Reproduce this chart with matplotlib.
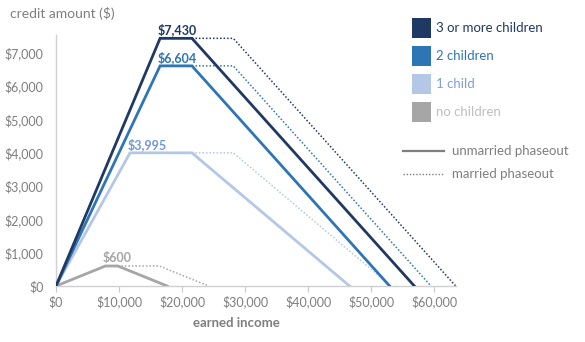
import matplotlib.pyplot as plt
from matplotlib.patches import Rectangle
from matplotlib.lines import Line2D
from matplotlib.ticker import FuncFormatter

# EITC schedule by number of children
groups = ['3 or more children', '2 children', '1 child', 'no children']
max_credit = [7430, 6604, 3995, 600]
phase_in_end = [16510, 16510, 11750, 7840]
single_phaseout_start = [21560, 21560, 21560, 9800]
single_phaseout_end = [56838, 52918, 46560, 17640]
married_phaseout_start = [28120, 28120, 28120, 16370]
married_phaseout_end = [63398, 59478, 53120, 24210]

x_ticks = [0, 10000, 20000, 30000, 40000, 50000, 60000]
y_ticks = [0, 1000, 2000, 3000, 4000, 5000, 6000, 7000]

line_colors = ['#203864', '#2e75b6', '#b4c7e7', '#a6a6a6']
label_colors = ['#203864', '#2e75b6', '#6f97d9', '#a6a6a6']
legend_text_colors = ['#203864', '#2e75b6', '#7f9fd8', '#bfbfbf']
grey = '#7f7f7f'

plt.rcParams['font.family'] = ['Lato', 'DejaVu Sans']

W, H = 585, 342
fig = plt.figure(figsize=(W / 100, H / 100), dpi=100)
ax = fig.add_axes([56 / W, 1 - 286 / H, (455.7 - 56) / W, (286 - 35) / H])

# draw lightest first so darker lines sit on top
for i in reversed(range(len(groups))):
    c = line_colors[i]
    ax.plot([single_phaseout_start[i], married_phaseout_start[i], married_phaseout_end[i]],
            [max_credit[i], max_credit[i], 0],
            color=c, lw=1.1, linestyle=(0, (1, 1.3)), zorder=2)
    ax.plot([0, phase_in_end[i], single_phaseout_start[i], single_phaseout_end[i]],
            [0, max_credit[i], max_credit[i], 0],
            color=c, lw=2.0, solid_joinstyle='miter', zorder=3)
    ax.annotate(f'${max_credit[i]:,}', (phase_in_end[i], max_credit[i]),
                xytext=(-2, 1.5), textcoords='offset points',
                ha='left', va='bottom', fontsize=9, fontweight='bold',
                color=label_colors[i])

ax.set_xlim(0, 63400)
ax.set_ylim(0, 7530)
ax.set_xticks(x_ticks)
ax.set_yticks(y_ticks)
ax.xaxis.set_major_formatter(FuncFormatter(lambda v, p: f'${v:,.0f}'))
ax.yaxis.set_major_formatter(FuncFormatter(lambda v, p: f'${v:,.0f}'))
ax.tick_params(axis='x', colors='#c8c8c8', labelcolor=grey, labelsize=9,
               length=4, width=0.8, pad=3)
ax.tick_params(axis='y', length=0, labelcolor=grey, labelsize=9, pad=9)
for s in ['top', 'right']:
    ax.spines[s].set_visible(False)
for s in ['left', 'bottom']:
    ax.spines[s].set_color('#d0d0d0')
    ax.spines[s].set_linewidth(1.0)

fig.text(236.7 / W, 1 - 322.7 / H, 'earned income', fontsize=9.5, fontweight='bold',
         color=grey, ha='center', va='center')
fig.text(10 / W, 1 - 14 / H, 'credit amount ($)', fontsize=10, color=grey,
         ha='left', va='center')

# legend: colour squares
for i, g in enumerate(groups):
    top = 17.5 + 28.1 * i
    fig.add_artist(Rectangle((412 / W, 1 - (top + 20) / H), 19 / W, 20 / H,
                             transform=fig.transFigure, facecolor=line_colors[i],
                             edgecolor='none'))
    fig.text(436 / W, 1 - (top + 10.5) / H, g, fontsize=9.5,
             color=legend_text_colors[i], ha='left', va='center')

# legend: line styles
fig.add_artist(Line2D([403 / W, 444 / W], [1 - 150.7 / H] * 2, transform=fig.transFigure,
                      color=grey, lw=1.6))
fig.text(452 / W, 1 - 150.7 / H, 'unmarried phaseout', fontsize=9.5, color=grey,
         ha='left', va='center')
fig.add_artist(Line2D([403 / W, 444 / W], [1 - 174 / H] * 2, transform=fig.transFigure,
                      color=grey, lw=1.0, linestyle=(0, (1, 1.3))))
fig.text(452 / W, 1 - 174 / H, 'married phaseout', fontsize=9.5, color=grey,
         ha='left', va='center')

fig.savefig('out.png', dpi=100)
